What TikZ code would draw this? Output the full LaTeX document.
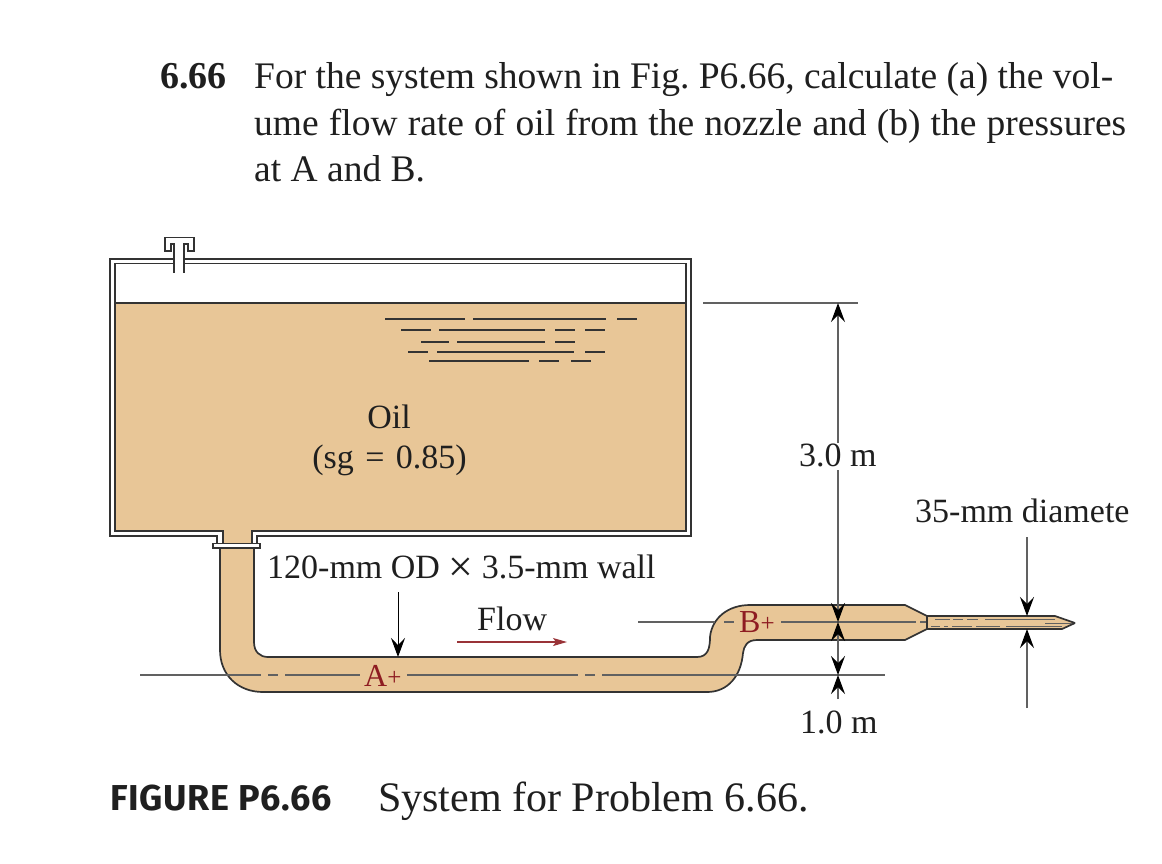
\documentclass[tikz,border=0pt]{standalone}
\usepackage{fontspec}
\setmainfont{Liberation Serif}
\newfontfamily\capfont{Fira Sans}[LetterSpace=2]
\usetikzlibrary{arrows.meta}
\definecolor{oil}{HTML}{E8C697}
\definecolor{ink}{HTML}{333333}
\definecolor{redtx}{HTML}{8E1C22}
\definecolor{txt}{HTML}{1F1F1F}
\tikzset{
 x=1pt,y=-1pt,
 wall/.style={draw=ink,line width=1.7pt},
 surf/.style={draw=ink,line width=1.5pt},
 dim/.style={draw=black!62,line width=1.2pt},
 tick/.style={draw=ink,line width=1.3pt},
 tip/.style={-{Stealth[length=19pt,width=14pt,inset=7pt,black]}},
 lbl/.style={inner sep=0pt,text=txt,font=\fontsize{34}{34}\selectfont,anchor=base west},
 para/.style={inner sep=0pt,text=txt,font=\fontsize{37.5}{37.5}\selectfont\frenchspacing,anchor=base west},
 redlbl/.style={inner sep=0pt,text=redtx,font=\fontsize{32}{32}\selectfont,anchor=base west},
}
\newcommand{\redplus}{\fontsize{25}{25}\selectfont\raisebox{0.5pt}{+}}
\begin{document}
\begin{tikzpicture}
\useasboundingbox (0,0) rectangle (1162,863);
\fill[white] (0,0) rectangle (1162,863);
% problem text
\node[para,font=\fontsize{38}{38}\selectfont\bfseries] (num) at (160,88) {6.66};
\node[para] (l1) at (254,88) {\makebox[859pt][s]{For the system shown in Fig. P6.66, calculate (a) the vol-}};
\node[para] (l2) at (254,135) {\makebox[872pt][s]{ume flow rate of oil from the nozzle and (b) the pressures}};
\node[para] (l3) at (254,181) {at A and B.};
% oil body
\fill[oil] (115,303) -- (686,303) -- (686,531) -- (252,531) -- (252,544) -- (254,548) -- (254,642)
  .. controls (254,652) and (260,657) .. (268,657) -- (697,657)
  .. controls (708,657) and (710,648) .. (710,637)
  .. controls (712,618) and (728,605) .. (750,605)
  -- (905,605) -- (927,616) -- (1055,616) -- (1075,623) -- (1062,629) -- (927,629) -- (905,640) -- (757,640)
  .. controls (747,640) and (744,646) .. (743,653)
  .. controls (741,676) and (728,692) .. (707,692)
  -- (263,692) .. controls (238,692) and (220,675) .. (220,650) -- (220,548) -- (223,544) -- (223,531) -- (115,531) -- cycle;
% tank walls
\draw[wall] (217,543) -- (217,536) -- (110,536) -- (110,259) -- (174,259);
\draw[wall] (223,544) -- (223,531) -- (115,531) -- (115,263.5) -- (174,263.5);
\draw[wall] (184,259) -- (691,259) -- (691,536) -- (257,536) -- (257,543);
\draw[wall] (184,263.5) -- (686,263.5) -- (686,531) -- (252,531) -- (252,544);
\draw[surf] (115,303) -- (686,303);
% vent
\draw[wall] (174,272.5) -- (174,244) -- (171,244) -- (171,251) -- (165,251) -- (165,237.5) -- (194,237.5) -- (194,251) -- (188,251) -- (188,244) -- (184,244) -- (184,272.5);
% flange
\draw[wall,line width=1.5pt,fill=white] (213,543.5) rectangle (260,548);
% pipe outline
\draw[wall] (254,548) -- (254,642) .. controls (254,652) and (260,657) .. (268,657) -- (697,657)
  .. controls (708,657) and (710,648) .. (710,637)
  .. controls (712,618) and (728,605) .. (750,605)
  -- (905,605) -- (927,616) -- (1055,616) -- (1075,623);
\draw[wall] (220,548) -- (220,650) .. controls (220,675) and (238,692) .. (263,692) -- (707,692)
  .. controls (728,692) and (741,676) .. (743,653)
  .. controls (744,646) and (747,640) .. (757,640)
  -- (905,640) -- (927,629) -- (1062,629) -- (1075,623);
\draw[wall,line width=1.3pt] (927,616) -- (927,629);
% oil surface ripples
\foreach \y/\a/\b in {319/385/465, 319/473/606, 319/617/637,
  330/401/431, 330/439/545, 330/555/575, 330/585/605,
  342/421/449, 342/457/545, 342/555/575,
  352/408/428, 352/437/574, 352/585/605,
  361/429/529, 361/539/559, 361/571/591}
  \draw[tick] (\a,\y) -- (\b,\y);
% labels
\node[lbl,anchor=base] (oilname) at (389,428) {Oil};
\node[lbl,anchor=base] (oilsg) at (389.5,468) {(sg\,\,=\,\,0.85)};
\node[lbl] (pipelbl) at (267,578) {120-mm OD {\fontsize{44}{44}\selectfont\raisebox{-3pt}{×}} 3.5-mm wall};
\node[lbl] (flowlbl) at (477,630) {Flow};
\node[lbl] (d3) at (799,466) {3.0 m};
\node[lbl] (d1) at (800,733) {1.0 m};
\node[lbl] (dn) at (915,522) {35-mm diamete};
\node[redlbl] (A) at (364,686) {A\redplus};
\node[redlbl] (B) at (739,632) {B\redplus};
% centre lines
\draw[dim] (140,675) -- (261,675);
\draw[dim] (268,675) -- (278,675);
\draw[dim] (285,675) -- (360,675);
\draw[dim] (407,675) -- (578,675);
\draw[dim] (585,675) -- (595,675);
\draw[dim] (602,675) -- (885,675);
\draw[dim] (638,622) -- (715,622);
\draw[dim] (724,622) -- (734,622);
\draw[dim] (781,622) -- (916,622);
\draw[dim] (920,622) -- (926,622);
\draw[dim,line width=0.9pt] (935,619) -- (950,619) (953,619) -- (963,619) (967,619) -- (978,619) (985,619) -- (1055,619);
\draw[dim,line width=0.9pt] (931,626) -- (940,626) (944,626) -- (948,626) (952,626) -- (972,626) (976,626) -- (1000,626) (1006,626) -- (1062,626);
\draw[dim,line width=0.9pt] (1045,623) -- (1072,623);
% extension and dimension lines
\coordinate (t3) at (838,303);
\coordinate (m3a) at (838,443);
\coordinate (m3b) at (838,470);
\coordinate (cB) at (838,622);
\coordinate (uB) at (838,642);
\coordinate (mAB) at (838,654);
\coordinate (dA) at (838,675);
\coordinate (e1) at (838,699);
\draw[dim] (703,303) -- (858,303);
\draw[dim,tip] (m3a) -- (t3);
\draw[dim,tip] (m3b) -- (cB);
\draw[dim,tip] (uB) -- (cB);
\draw[dim,tip] (mAB) -- (dA);
\draw[dim] (uB) -- (mAB);
\draw[dim,tip] (e1) -- (dA);
% nozzle diameter
\coordinate (nt) at (1027,616);
\coordinate (nb) at (1027,629);
\draw[dim,tip] (1027,537) -- (nt);
\draw[dim,tip] (1027,708) -- (nb);
% pipe arrow
\draw[draw=black,line width=1pt,tip] (398,592) -- (398,657);
% flow arrow
\draw[redtx!90!white,line width=1.2pt,-{Stealth[length=14pt,width=8pt,inset=3pt]}] (457,642) -- (567,642);
% caption
\node[inner sep=0pt,anchor=base west,text=txt,font=\capfont\fontsize{36}{36}\selectfont\bfseries] (fig) at (110,810) {FIGURE P6.66};
\node[inner sep=0pt,anchor=base west,text=txt,font=\fontsize{42}{42}\selectfont] (cap) at (378,811) {System for Problem 6.66.};
\end{tikzpicture}
\end{document}
